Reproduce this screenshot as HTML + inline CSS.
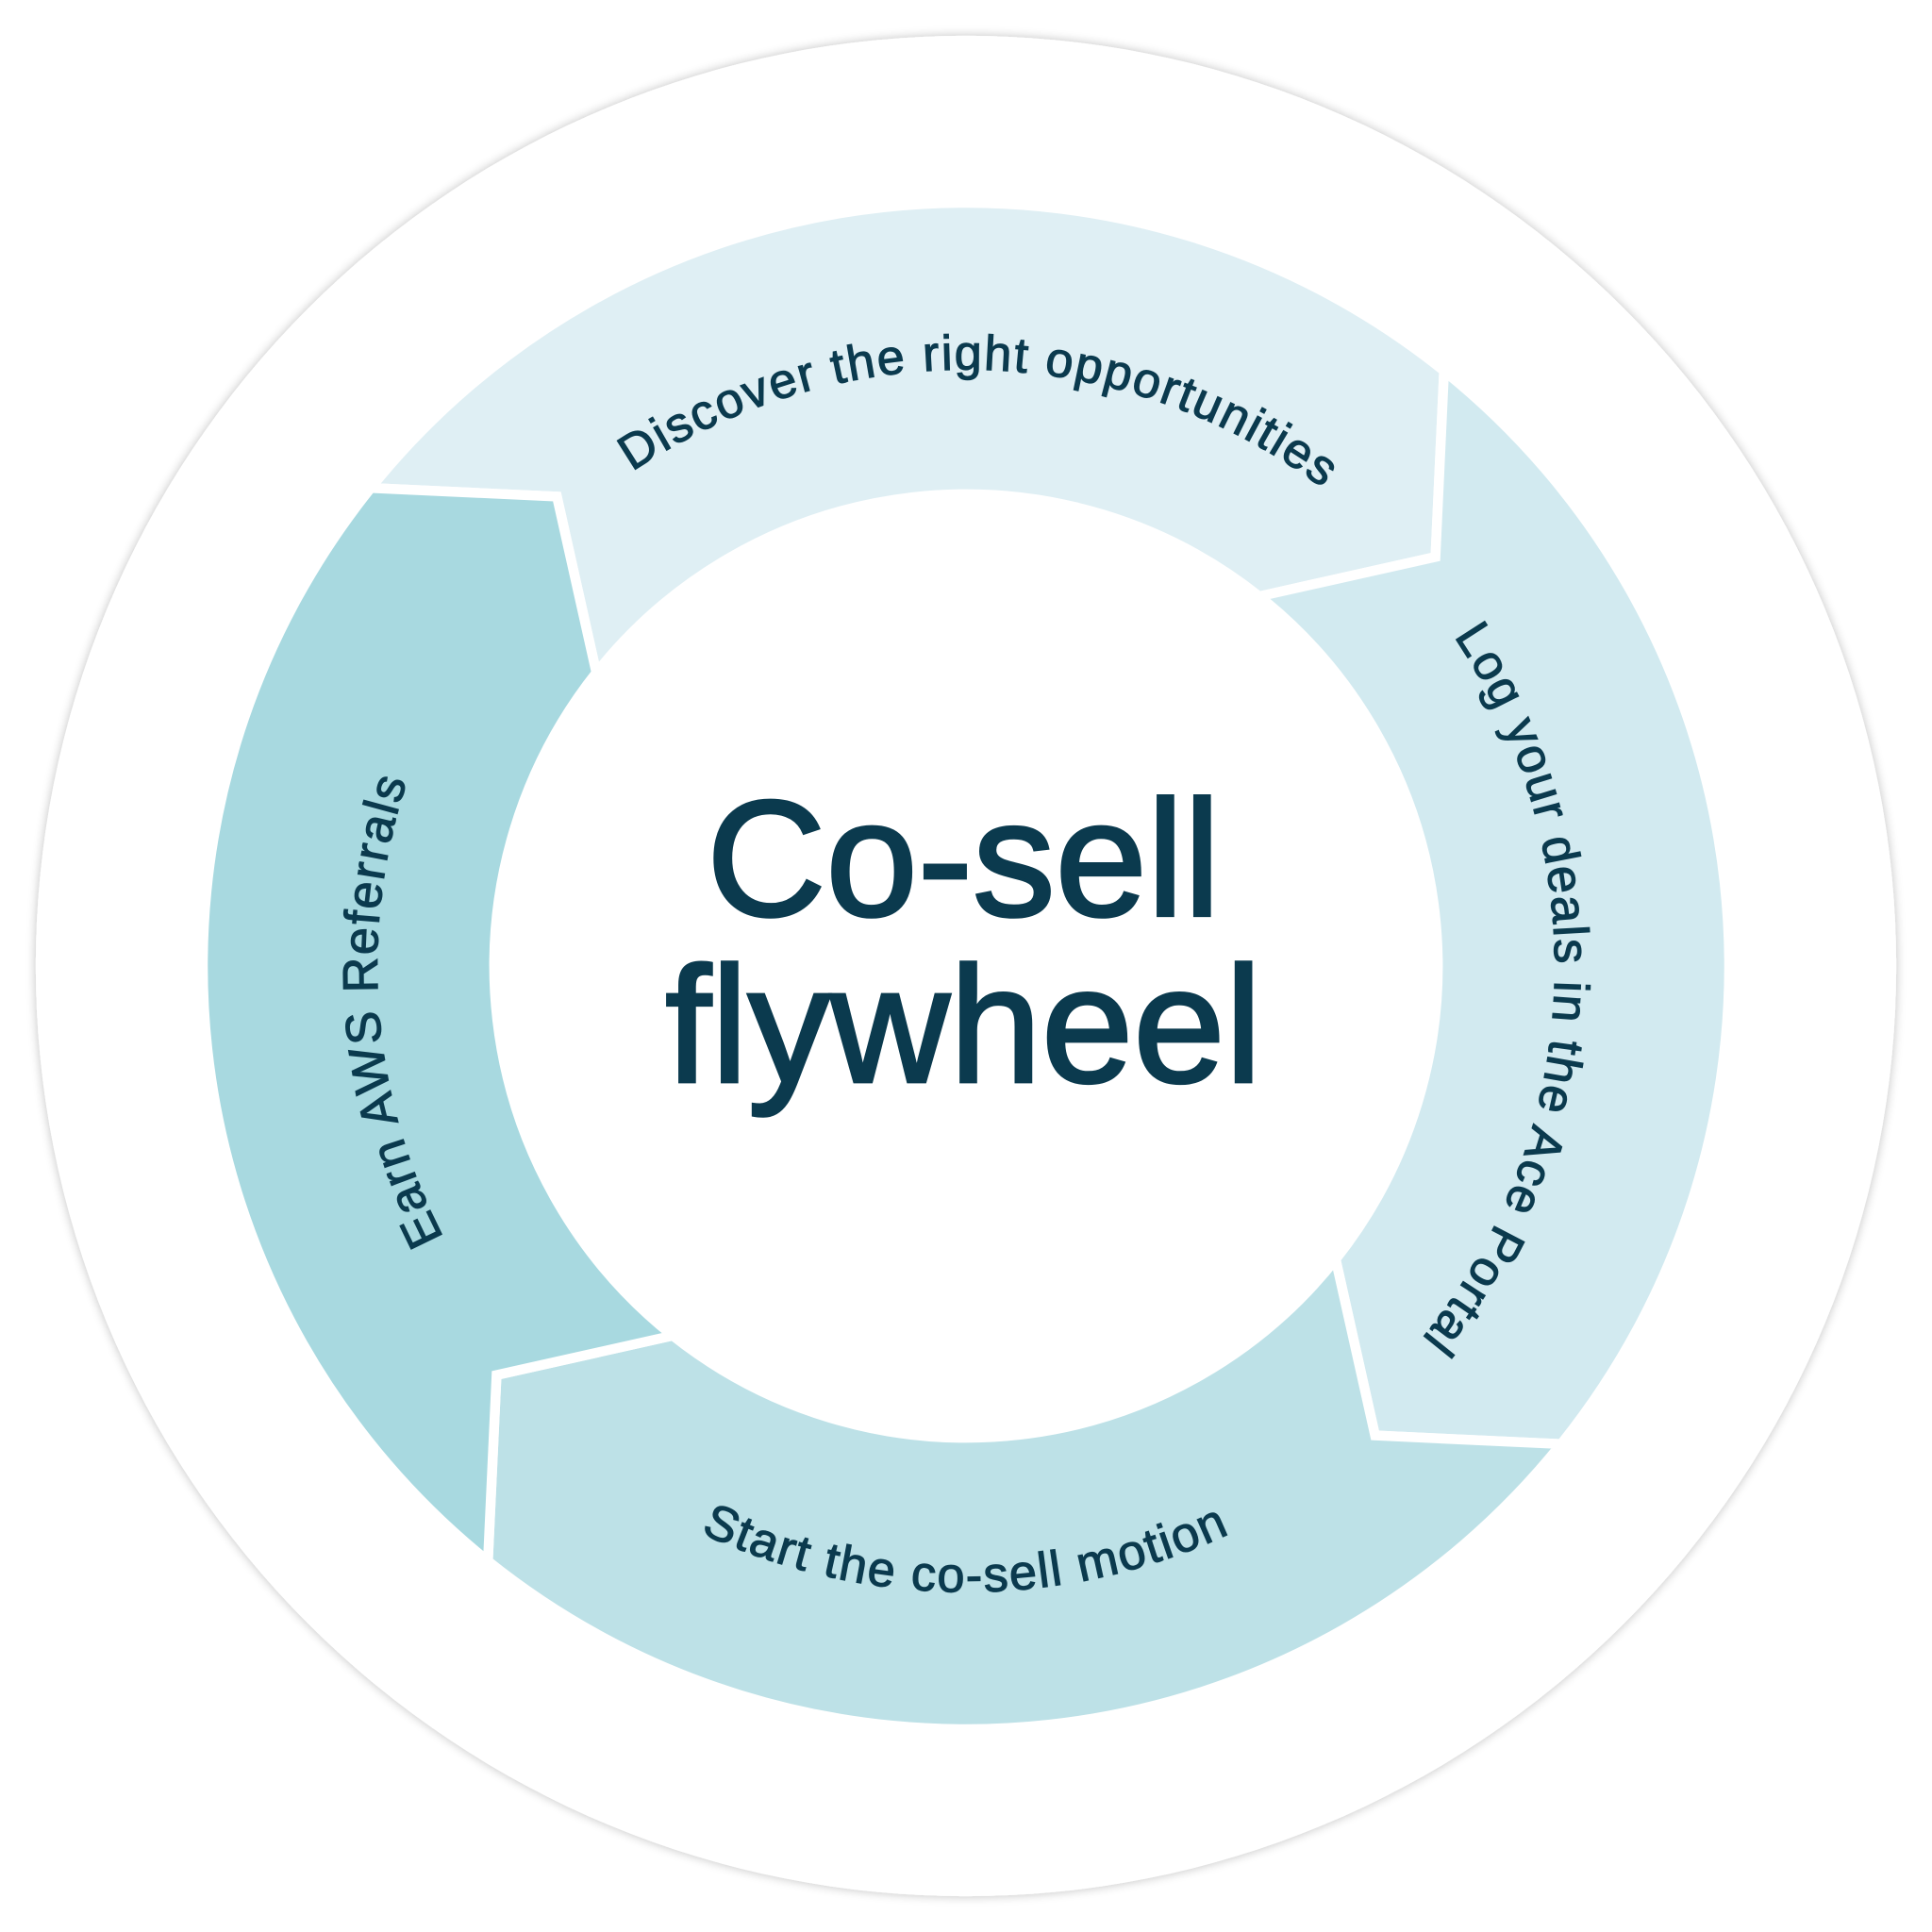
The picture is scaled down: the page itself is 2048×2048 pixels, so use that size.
<!DOCTYPE html>
<html><head><meta charset="utf-8"><style>
html,body{margin:0;padding:0;background:#fff;}
svg{display:block;}
text{font-family:"Liberation Sans",sans-serif;fill:#0b3a4e;stroke:#0b3a4e;}
</style></head><body>
<svg width="2048" height="2048" viewBox="0 0 1568 1568" xmlns="http://www.w3.org/2000/svg">
<defs>
<filter id="sh" x="-10%" y="-10%" width="120%" height="120%">
<feGaussianBlur in="SourceAlpha" stdDeviation="4"/>
<feComponentTransfer><feFuncA type="linear" slope="0.25"/></feComponentTransfer>
<feMerge><feMergeNode/><feMergeNode in="SourceGraphic"/></feMerge>
</filter>
<path id="tTop" d="M 300 784 A 484 484 0 0 1 1268 784"/>
<path id="tRight" d="M 784 306 A 478 478 0 0 1 784 1262"/>
<path id="tBot" d="M 276 784 A 508 508 0 0 0 1292 784"/>
<path id="tLeft" d="M 784 1262 A 478 478 0 0 1 784 306"/>
</defs>
<rect width="1568" height="1568" fill="#fff"/>
<circle cx="784" cy="784" r="755" fill="#fff" filter="url(#sh)" stroke="none"/>
<g stroke="#fff" stroke-width="8" stroke-linejoin="miter">
<path fill="#dfeff4" d="M301 396 A620 620 0 0 1 1172 301 L1165 452 L1022 484 A383 383 0 0 0 484 546 L452 403 Z"/>
<path fill="#d2eaf0" d="M1172 301 A620 620 0 0 1 1267 1172 L1116 1165 L1084 1022 A383 383 0 0 0 1022 484 L1165 452 Z"/>
<path fill="#bde1e7" d="M1267 1172 A620 620 0 0 1 396 1267 L403 1116 L546 1084 A383 383 0 0 0 1084 1022 L1116 1165 Z"/>
<path fill="#a8d9e0" d="M396 1267 A620 620 0 0 1 301 396 L452 403 L484 546 A383 383 0 0 0 546 1084 L403 1116 Z"/>
</g>
<g font-size="40" letter-spacing="1.5" stroke-width="0.9">
<text><textPath href="#tTop" startOffset="50.8%" text-anchor="middle">Discover the right opportunities</textPath></text>
<text><textPath href="#tRight" startOffset="51.5%" text-anchor="middle">Log your deals in the Ace Portal</textPath></text>
<text><textPath href="#tBot" startOffset="50%" text-anchor="middle">Start the co-sell motion</textPath></text>
<text><textPath href="#tLeft" startOffset="47.5%" text-anchor="middle">Earn AWS Referrals</textPath></text>
</g>
<text x="782" y="743" font-size="134" text-anchor="middle" stroke-width="2.5">Co-sell</text>
<text x="782" y="878" font-size="134" text-anchor="middle" stroke-width="2.5">flywheel</text>
</svg>
</body></html>
